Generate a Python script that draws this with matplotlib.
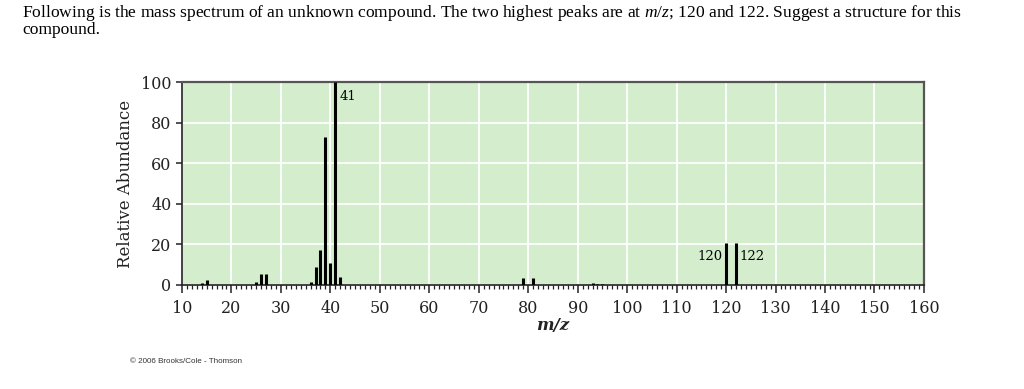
import matplotlib
matplotlib.use("Agg")
import matplotlib.pyplot as plt
from matplotlib.ticker import MultipleLocator

plt.rcParams["mathtext.fontset"] = "custom"
plt.rcParams["mathtext.rm"] = "Liberation Serif"
plt.rcParams["mathtext.it"] = "Liberation Serif:italic"

# Data
mz = [14, 15, 25, 26, 27, 36, 37, 38, 39, 40, 41, 42, 79, 81, 93, 94, 95, 120, 122]
abundance = [0.8, 2.5, 1.5, 5.5, 5.5, 1.5, 9, 17, 73, 11, 100, 4, 3.5, 3.5, 1.2, 0.6, 0.6, 20.5, 20.5]
x_ticks = [10, 20, 30, 40, 50, 60, 70, 80, 90, 100, 110, 120, 130, 140, 150, 160]
y_ticks = [0, 20, 40, 60, 80, 100]
labeled_peaks = {41: "41", 120: "120", 122: "122"}

fig = plt.figure(figsize=(10.24, 3.89), dpi=100)
ax = fig.add_axes([0.1777, 0.2674, 0.7246, 0.5216])
ax.set_facecolor("#d4edcd")
ax.set_xlim(10, 160)
ax.set_ylim(0, 100)
ax.set_xticks(x_ticks)
ax.set_yticks(y_ticks)
ax.xaxis.set_minor_locator(MultipleLocator(1))
ax.grid(True, which="major", color="white", lw=1.3)
ax.set_axisbelow(True)

ax.vlines(mz, 0, abundance, colors="black", lw=2.2, zorder=3)

serif = "DejaVu Serif"
ax.text(41.8, 96, labeled_peaks[41], fontsize=9.5, family=serif, va="top", ha="left")
ax.text(119.3, 14, labeled_peaks[120], fontsize=9.5, family=serif, va="center", ha="right")
ax.text(122.7, 14, labeled_peaks[122], fontsize=9.5, family=serif, va="center", ha="left")

for s in ["top", "right"]:
    ax.spines[s].set_color("#555555")
    ax.spines[s].set_linewidth(1.6)
for s in ["left", "bottom"]:
    ax.spines[s].set_color("#222222")
    ax.spines[s].set_linewidth(1.2)

ax.tick_params(axis="both", which="major", direction="out", length=6, width=1.1,
               labelsize=11.5, color="#222222")
ax.tick_params(axis="x", which="minor", direction="out", length=3, width=0.9, color="#222222")
ax.tick_params(axis="y", which="major", length=4, pad=3.5)
ax.tick_params(axis="x", which="major", pad=5)
for lab in ax.get_xticklabels() + ax.get_yticklabels():
    lab.set_family(serif)
    lab.set_color("#222222")

ax.set_ylabel("Relative Abundance", fontsize=12, family=serif, color="#222222", labelpad=5)
ax.set_xlabel("m/z", fontsize=12, family=serif, style="italic", weight="bold",
              color="#222222", labelpad=0)

fig.text(0.0215, 0.993,
         "Following is the mass spectrum of an unknown compound. The two highest peaks are at $m/z$; 120 and 122. Suggest a structure for this\ncompound.",
         fontsize=12.6, family="Liberation Serif", va="top", ha="left", linespacing=0.95)
fig.text(0.127, 0.07, "\u00a9 2006 Brooks/Cole - Thomson", fontsize=5.8,
         family="Liberation Sans", color="#333333", va="center")

fig.savefig("out.png", dpi=100)
